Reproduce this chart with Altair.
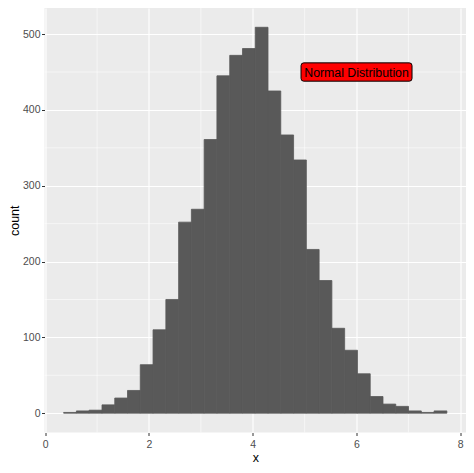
import altair as alt
import pandas as pd

# ---- data ----
bin_edges = [0.355, 0.601, 0.847, 1.094, 1.340, 1.586, 1.832, 2.078, 2.325, 2.571,
             2.817, 3.063, 3.309, 3.556, 3.802, 4.048, 4.294, 4.540, 4.787, 5.033,
             5.279, 5.525, 5.771, 6.018, 6.264, 6.510, 6.756, 7.002, 7.249, 7.495, 7.741]
counts = [1, 3, 4, 11, 20, 30, 64, 110, 150, 252,
          269, 361, 445, 472, 481, 509, 425, 367, 334, 216,
          175, 112, 83, 52, 22, 12, 9, 3, 1, 3]
x_ticks = [0, 2, 4, 6, 8]
x_minor = [1, 3, 5, 7]
y_ticks = [0, 100, 200, 300, 400, 500]
y_minor = [50, 150, 250, 350, 450]
label_x = [6]
label_y = [450]
label_text = ["Normal Distribution"]

hist_df = pd.DataFrame({"x0": bin_edges[:-1], "x1": bin_edges[1:], "count": counts})
xmin_df = pd.DataFrame({"x0": x_minor})
ymin_df = pd.DataFrame({"count": y_minor})
lab_df = pd.DataFrame({"x0": label_x, "count": label_y, "t": label_text})

FONT = "Liberation Sans"
W, H = 421.5, 424.5

x_scale = alt.Scale(domain=[-0.014, 8.11], nice=False, zero=False)
y_scale = alt.Scale(domain=[-25.45, 534.45], nice=False, zero=False)

x_axis = alt.Axis(values=x_ticks, title="x", grid=True, gridColor="white", gridWidth=1.1,
                  domain=False, tickColor="#333333", tickSize=3, tickWidth=1,
                  labelColor="#4D4D4D", labelFont=FONT, labelFontSize=10.5, labelPadding=3.5,
                  labelFlush=False, titleFont=FONT, titleFontSize=12.5, titleFontWeight="normal",
                  titleColor="black", titleY=28.5, titleBaseline="alphabetic")
y_axis = alt.Axis(values=y_ticks, title="count", grid=True, gridColor="white", gridWidth=1.1,
                  domain=False, tickColor="#333333", tickSize=3, tickWidth=1,
                  labelColor="#4D4D4D", labelFont=FONT, labelFontSize=10.5, labelPadding=1.5,
                  labelFlush=False, titleFont=FONT, titleFontSize=12.5, titleFontWeight="normal",
                  titleColor="black", titleX=-30.5, titleY=H / 2, titleAngle=270,
                  titleAlign="center", titleBaseline="middle")

X = alt.X("x0:Q", scale=x_scale, axis=x_axis, title="x")
Y = alt.Y("count:Q", scale=y_scale, axis=y_axis, title="count")

minor_x = alt.Chart(xmin_df).mark_rule(color="white", strokeWidth=0.55).encode(x=X)
minor_y = alt.Chart(ymin_df).mark_rule(color="white", strokeWidth=0.55).encode(y=Y)

bars = alt.Chart(hist_df).mark_rect(color="#595959", stroke="#595959", strokeWidth=0.8).encode(
    x=X, x2="x1:Q", y=Y, y2=alt.datum(0),
)

box_path = ("M -0.95,-0.165 L 0.95,-0.165 Q 1,-0.165 1,-0.115 L 1,0.115 Q 1,0.165 0.95,0.165 "
            "L -0.95,0.165 Q -1,0.165 -1,0.115 L -1,-0.115 Q -1,-0.165 -0.95,-0.165 Z")
box = alt.Chart(lab_df).mark_point(shape=box_path, size=12321, filled=True, fill="#FF0000",
                                   stroke="black", strokeWidth=1, opacity=1).encode(x=X, y=Y)
text = alt.Chart(lab_df).mark_text(font=FONT, fontSize=12.3, color="black", align="center",
                                   baseline="middle", dy=0.5).encode(x=X, y=Y, text="t:N")

chart = alt.layer(minor_x, minor_y, bars, box, text).properties(
    width=W, height=H,
    autosize=alt.AutoSizeParams(type="none"),
    padding={"left": 36.5, "top": 0, "right": 0, "bottom": 32.5},
    background="white",
).configure_view(fill="#EBEBEB", strokeWidth=0)

chart.save("out.html", embed_options={"renderer": "svg", "actions": False})
